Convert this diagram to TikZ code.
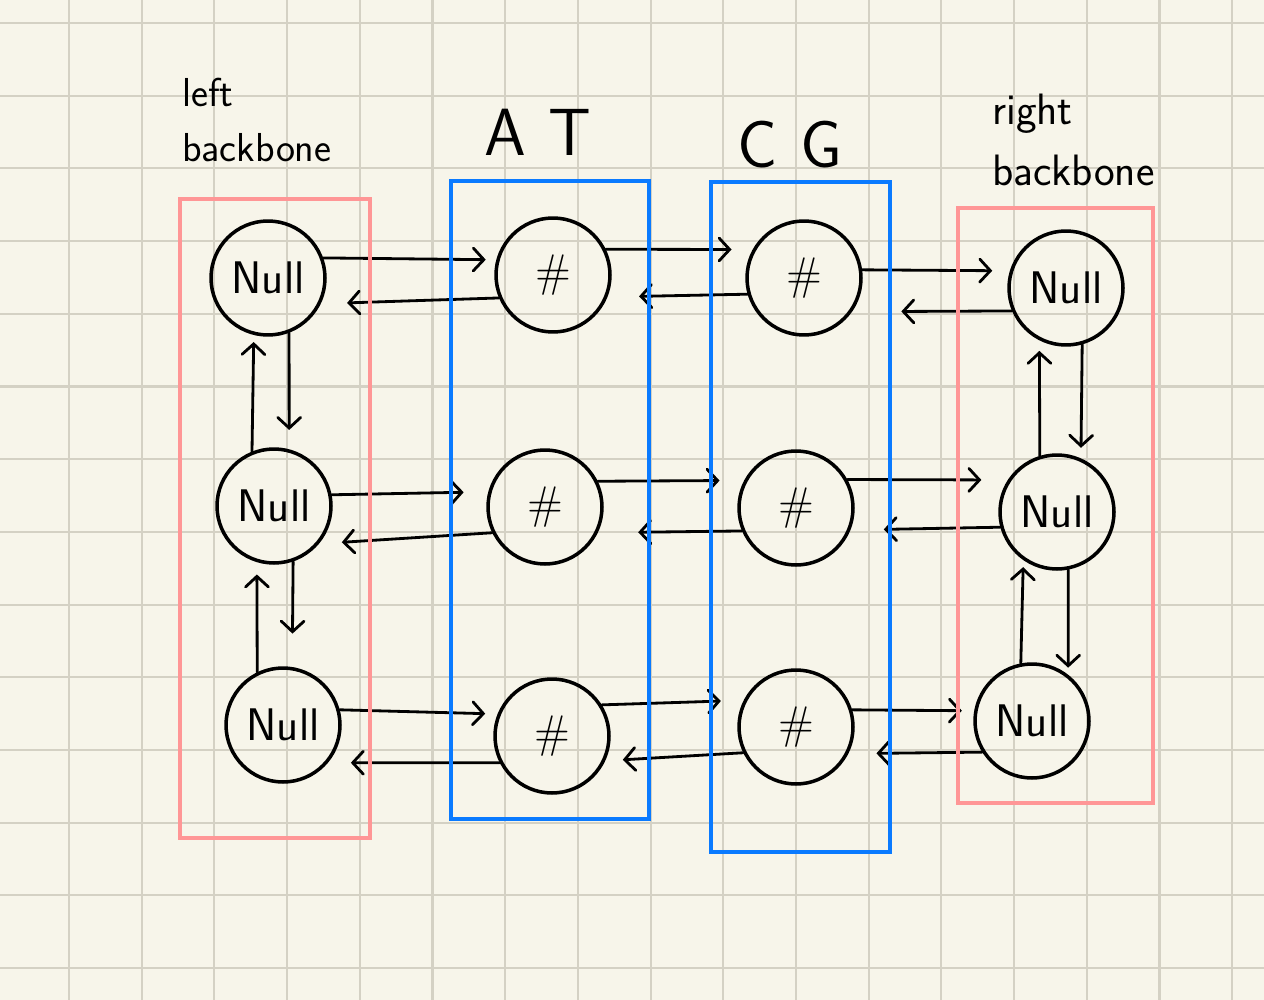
\documentclass[tikz,border=0pt]{standalone}
\usepackage{tikz}
\usetikzlibrary{arrows.meta}
\definecolor{paper}{RGB}{247,245,234}
\definecolor{gridline}{RGB}{212,209,196}
\definecolor{bonepink}{RGB}{255,150,150}
\definecolor{pairblue}{RGB}{10,122,255}

\begin{document}
\begin{tikzpicture}[x=0.02cm,y=-0.02cm,
        cell/.style={circle,draw,line width=2pt,minimum size=2.28cm,inner sep=0pt,font=\sffamily\fontsize{26}{26}\selectfont},
        link/.style={line width=1.6pt,line cap=round,-{Straight Barb[length=6pt,width=13pt,line cap=round]}},
        bone/.style={draw=bonepink,line width=2pt},
        pair/.style={draw=pairblue,line width=2pt},
        hand/.style={font=\sffamily\fontsize{23}{31}\selectfont,align=left,anchor=west},
        title/.style={font=\sffamily\fontsize{38}{38}\selectfont}]
        \useasboundingbox[fill=paper] (0,0) rectangle (1264,1000);
        \foreach \k in {0,...,16}
            \draw[gridline,line width=1.2pt] (69+72.7*\k,0) -- (69+72.7*\k,1000);
        \foreach \k in {0,...,13}
            \draw[gridline,line width=1.2pt] (0,23+72.7*\k) -- (1264,23+72.7*\k);

        \node[hand] (lblleft) at (176,120) {left\\backbone};
        \node[hand,font=\sffamily\fontsize{25}{35}\selectfont] (lblright) at (986,140) {right\\backbone};
        \node[title] (lblAT) at (538,132) {A\,\,T};
        \node[title] (lblCG) at (790,145) {C\,\,G};

        \node[cell] (L1) at (268,278) {Null};
        \node[cell] (L2) at (274,506) {Null};
        \node[cell] (L3) at (283,725) {Null};
        \node[cell] (A1) at (553,275) {\#};
        \node[cell] (A2) at (545,507) {\#};
        \node[cell] (A3) at (552,736) {\#};
        \node[cell] (C1) at (804,278) {\#};
        \node[cell] (C2) at (796,508) {\#};
        \node[cell] (C3) at (796,727) {\#};
        \node[cell] (R1) at (1066,288) {Null};
        \node[cell] (R2) at (1057,512) {Null};
        \node[cell] (R3) at (1032,721) {Null};

        \draw[link,shorten >=6pt] (L1.20) -- (A1.165);
        \draw[link,shorten >=15pt] (A1.203) -- (L1.334);
        \draw[link,shorten >=12pt] (A1.26) -- (C1.151);
        \draw[link,shorten >=18pt] (C1.196) -- (A1.338);
        \draw[link,shorten >=10pt] (C1.8) -- (R1.163);
        \draw[link,shorten >=28pt] (R1.203) -- (C1.325);

        \draw[link,shorten >=14pt] (L2.11) -- (A2.165);
        \draw[link,shorten >=13pt] (A2.206) -- (L2.320);
        \draw[link,shorten >=14pt] (A2.26) -- (C2.152);
        \draw[link,shorten >=23pt] (C2.203) -- (A2.334);
        \draw[link,shorten >=15pt] (C2.29) -- (R2.147);
        \draw[link,shorten >=19pt] (R2.195) -- (C2.338);

        \draw[link,shorten >=7pt] (L3.15) -- (A3.158);
        \draw[link,shorten >=13pt] (A3.207) -- (L3.320);
        \draw[link,shorten >=13pt] (A3.32) -- (C3.153);
        \draw[link,shorten >=10pt] (C3.206) -- (A3.335);
        \draw[link,shorten >=7pt] (C3.17) -- (R3.170);
        \draw[link,shorten >=16pt] (R3.212) -- (C3.333);

        \draw[link,shorten >=11pt] (L1.291) -- (L2.75);
        \draw[link,shorten >=4pt] (L2.112) -- (L1.256);
        \draw[link,shorten >=19pt] (L2.289) -- (L3.81);
        \draw[link,shorten >=7pt] (L3.116) -- (L2.253);
        \draw[link,shorten >=6pt] (R1.286) -- (R2.66);
        \draw[link,shorten >=6pt] (R2.107) -- (R1.243);
        \draw[link,shorten >=4pt] (R2.281) -- (R3.52);
        \draw[link,shorten >=4pt] (R3.101) -- (R2.235);

        \draw[bone] (180,199) rectangle (370,838);
        \draw[pair] (451,181) rectangle (649,819);
        \draw[pair] (711,182) rectangle (890,852);
        \draw[bone] (958,208) rectangle (1153,803);
    \end{tikzpicture}
\end{document}
